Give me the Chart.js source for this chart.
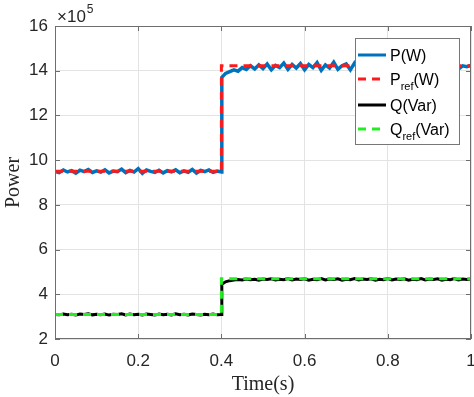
<!DOCTYPE html>
<html>
<head>
<meta charset="utf-8">
<script src="https://cdn.jsdelivr.net/npm/chart.js@4"></script>
<style>
  html, body { margin: 0; padding: 0; background: #fff; }
  canvas { display: block; }
</style>
</head>
<body>
<canvas id="grafico" width="474" height="397"></canvas>
<script>
// tempo (s)
const timeS = [
  0.00, 0.01, 0.02, 0.03, 0.04, 0.05, 0.06, 0.07, 0.08, 0.09,
  0.10, 0.11, 0.12, 0.13, 0.14, 0.15, 0.16, 0.17, 0.18, 0.19,
  0.20, 0.21, 0.22, 0.23, 0.24, 0.25, 0.26, 0.27, 0.28, 0.29,
  0.30, 0.31, 0.32, 0.33, 0.34, 0.35, 0.36, 0.37, 0.38, 0.39,
  0.40, 0.401,
  0.41, 0.42, 0.43, 0.44, 0.45, 0.46, 0.47, 0.48, 0.49, 0.50,
  0.51, 0.52, 0.53, 0.54, 0.55, 0.56, 0.57, 0.58, 0.59, 0.60,
  0.61, 0.62, 0.63, 0.64, 0.65, 0.66, 0.67, 0.68, 0.69, 0.70,
  0.71, 0.72, 0.73, 0.74, 0.75, 0.76, 0.77, 0.78, 0.79, 0.80,
  0.81, 0.82, 0.83, 0.84, 0.85, 0.86, 0.87, 0.88, 0.89, 0.90,
  0.91, 0.92, 0.93, 0.94, 0.95, 0.96, 0.97, 0.98, 0.99, 1.00
];
// P (x10^5 W)
const pValues = [
  9.50, 9.44, 9.56, 9.47, 9.53, 9.42, 9.55, 9.49, 9.58, 9.45,
  9.52, 9.46, 9.57, 9.43, 9.51, 9.48, 9.60, 9.44, 9.54, 9.47,
  9.62, 9.41, 9.56, 9.50, 9.45, 9.55, 9.43, 9.53, 9.48, 9.57,
  9.44, 9.52, 9.46, 9.58, 9.42, 9.54, 9.49, 9.56, 9.45, 9.51,
  9.47, 13.70,
  13.88, 13.96, 14.04, 13.98, 14.14, 14.06, 14.22, 14.08, 14.26, 14.10,
  14.30, 14.04, 14.24, 14.14, 14.34, 14.06, 14.28, 14.12, 14.32, 14.04,
  14.28, 14.14, 14.36, 14.02, 14.26, 14.12, 14.38, 14.06, 14.22, 14.30,
  14.04, 14.34, 14.10, 14.26, 14.00, 14.36, 14.12, 14.28, 14.06, 14.40,
  14.08, 14.24, 14.14, 14.38, 14.02, 14.30, 14.10, 14.34, 14.06, 14.26,
  14.16, 14.42, 14.04, 14.28, 14.12, 14.36, 14.08, 14.22, 14.18, 14.24
];
// Q (x10^5 Var)
const qValues = [
  3.10, 3.08, 3.12, 3.09, 3.11, 3.07, 3.12, 3.10, 3.13, 3.08,
  3.11, 3.09, 3.12, 3.07, 3.11, 3.10, 3.13, 3.08, 3.12, 3.09,
  3.11, 3.08, 3.12, 3.10, 3.07, 3.12, 3.09, 3.11, 3.08, 3.13,
  3.09, 3.11, 3.08, 3.12, 3.10, 3.07, 3.11, 3.09, 3.12, 3.08,
  3.10, 4.45,
  4.56, 4.61, 4.64, 4.66, 4.64, 4.68, 4.65, 4.67, 4.63, 4.68,
  4.66, 4.69, 4.64, 4.67, 4.65, 4.70, 4.64, 4.68, 4.66, 4.69,
  4.63, 4.67, 4.65, 4.70, 4.64, 4.68, 4.66, 4.69, 4.63, 4.67,
  4.65, 4.70, 4.64, 4.68, 4.66, 4.69, 4.63, 4.67, 4.65, 4.70,
  4.64, 4.68, 4.66, 4.69, 4.63, 4.67, 4.65, 4.70, 4.64, 4.68,
  4.66, 4.69, 4.63, 4.67, 4.65, 4.70, 4.64, 4.68, 4.66, 4.68
];
// referencias (degrau em 0.4 s)
const refTime = [0, 0.4, 0.4, 1];
const pRefValues = [9.5, 9.5, 14.22, 14.22];
const qRefValues = [3.1, 3.1, 4.7, 4.7];

const yTicks = [2, 4, 6, 8, 10, 12, 14, 16];
const xTicks = [0, 0.2, 0.4, 0.6, 0.8, 1];
const xTickLabels = ['0', '0.2', '0.4', '0.6', '0.8', '1'];

const legendItems = [
  { main: 'P', sub: '', rest: '(W)', color: '#0072BD', dash: [] },
  { main: 'P', sub: 'ref', rest: '(W)', color: '#FF1A1A', dash: [8, 6] },
  { main: 'Q', sub: '', rest: '(Var)', color: '#000000', dash: [] },
  { main: 'Q', sub: 'ref', rest: '(Var)', color: '#22EE22', dash: [8, 6] }
];

function pontos(xs, ys) {
  return ys.map((v, i) => ({ x: xs[i], y: v }));
}

const axisColor = '#6e6e6e';
const sans = "'Liberation Sans', Arial, sans-serif";
const serif = "'Liberation Serif', 'Times New Roman', serif";

const moldura = {
  id: 'moldura',
  afterDraw(chart) {
    const { ctx, chartArea: a, scales: { x, y } } = chart;
    ctx.save();
    // caixa e marcas para dentro
    ctx.strokeStyle = axisColor;
    ctx.lineWidth = 1;
    ctx.strokeRect(Math.round(a.left) + 0.5, Math.round(a.top) + 0.5,
      Math.round(a.right - a.left) - 1, Math.round(a.bottom - a.top) - 1);
    ctx.beginPath();
    xTicks.forEach(v => {
      const px = Math.round(x.getPixelForValue(v)) + 0.5;
      ctx.moveTo(px, a.bottom); ctx.lineTo(px, a.bottom - 5);
      ctx.moveTo(px, a.top); ctx.lineTo(px, a.top + 5);
    });
    yTicks.forEach(v => {
      const py = Math.round(y.getPixelForValue(v)) + 0.5;
      ctx.moveTo(a.left, py); ctx.lineTo(a.left + 5, py);
      ctx.moveTo(a.right, py); ctx.lineTo(a.right - 5, py);
    });
    ctx.stroke();

    // x10^5
    ctx.fillStyle = '#262626';
    ctx.textBaseline = 'alphabetic';
    ctx.font = '17px ' + sans;
    ctx.fillText('\u00d710', a.left + 2, a.top - 4);
    const w = ctx.measureText('\u00d710').width;
    ctx.font = '12px ' + sans;
    ctx.fillText('5', a.left + 2 + w + 1, a.top - 13);

    // legenda
    const bx = 355, by = 38, bw = 104, bh = 106;
    ctx.fillStyle = '#ffffff';
    ctx.fillRect(bx, by, bw, bh);
    ctx.strokeStyle = '#777777';
    ctx.strokeRect(bx + 0.5, by + 0.5, bw, bh);
    const rows = [55, 79, 105, 129];
    legendItems.forEach((it, i) => {
      const ly = rows[i];
      ctx.beginPath();
      ctx.strokeStyle = it.color;
      ctx.lineWidth = 3;
      ctx.setLineDash(it.dash);
      ctx.moveTo(358, ly); ctx.lineTo(386, ly);
      ctx.stroke();
      ctx.setLineDash([]);
      ctx.fillStyle = '#000000';
      ctx.font = '16px ' + sans;
      let tx = 390;
      ctx.fillText(it.main, tx, ly + 6);
      tx += ctx.measureText(it.main).width;
      if (it.sub) {
        ctx.font = '11px ' + sans;
        ctx.fillText(it.sub, tx, ly + 11);
        tx += ctx.measureText(it.sub).width;
        ctx.font = '16px ' + sans;
      }
      ctx.fillText(it.rest, tx, ly + 6);
    });
    ctx.restore();
  }
};

new Chart(document.getElementById('grafico'), {
  type: 'line',
  data: {
    datasets: [
      { label: 'P(W)', data: pontos(timeS, pValues), borderColor: '#0072BD', borderWidth: 3.5, order: 4 },
      { label: 'Pref(W)', data: pontos(refTime, pRefValues), borderColor: '#FF1A1A', borderWidth: 3, borderDash: [8, 6], order: 3 },
      { label: 'Q(Var)', data: pontos(timeS, qValues), borderColor: '#000000', borderWidth: 3, order: 2 },
      { label: 'Qref(Var)', data: pontos(refTime, qRefValues), borderColor: '#22EE22', borderWidth: 3, borderDash: [8, 6], order: 1 }
    ]
  },
  options: {
    responsive: false,
    animation: false,
    elements: { point: { radius: 0 }, line: { tension: 0, fill: false } },
    layout: { padding: { top: 26, right: 3, left: 0, bottom: 0 } },
    plugins: { legend: { display: false }, tooltip: { enabled: false } },
    scales: {
      x: {
        type: 'linear',
        min: 0, max: 1,
        afterBuildTicks: s => { s.ticks = xTicks.map(v => ({ value: v })); },
        afterFit: s => { s.height = 58; s.paddingLeft = 0; s.paddingRight = 0; },
        grid: { color: '#e3e3e3', drawTicks: false },
        border: { display: false },
        ticks: {
          padding: 12, color: '#262626', maxRotation: 0,
          font: { family: sans, size: 17 },
          callback: (v, i) => xTickLabels[i]
        },
        title: { display: true, text: 'Time(s)', color: '#262626', font: { family: serif, size: 20 }, padding: { top: 0, bottom: 0 } }
      },
      y: {
        min: 2, max: 16,
        afterBuildTicks: s => { s.ticks = yTicks.map(v => ({ value: v })); },
        afterFit: s => { s.width = 55; s.paddingTop = 0; s.paddingBottom = 0; },
        grid: { color: '#e3e3e3', drawTicks: false },
        border: { display: false },
        ticks: { padding: 7, color: '#262626', font: { family: sans, size: 17 } },
        title: { display: true, text: 'Power', color: '#262626', font: { family: serif, size: 20 }, padding: { top: 2, bottom: 0 } }
      }
    }
  },
  plugins: [moldura]
});
</script>
</body>
</html>
